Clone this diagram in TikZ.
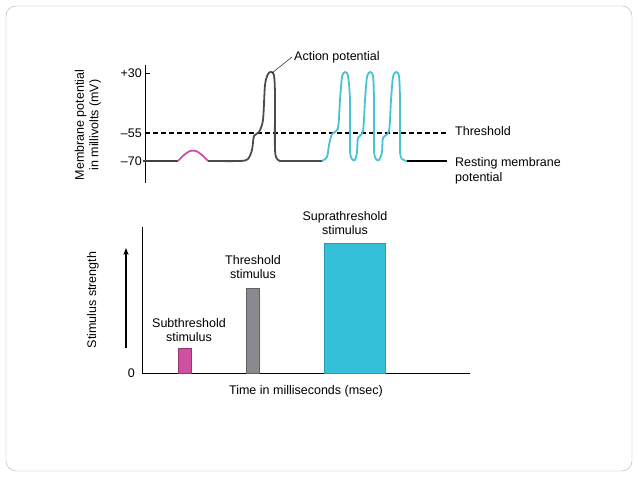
\documentclass[tikz,border=0pt]{standalone}
\usepackage{fontspec}
\setmainfont{Liberation Sans}
\usetikzlibrary{arrows.meta}
\definecolor{pk}{HTML}{D050A0}
\definecolor{cy}{HTML}{35C0DA}
\definecolor{cyl}{HTML}{45C3D3}
\definecolor{gb}{HTML}{8A8A8E}
\begin{document}
\begin{tikzpicture}[x=1pt,y=-1pt,font=\fontsize{12.5}{14.5}\selectfont,
 lbl/.style={inner sep=0pt,align=center},
 wave/.style={line width=1.8pt,smooth,tension=0.45,line join=round}]
\useasboundingbox (0,0) rectangle (638,478);
\draw[gray!60,rounded corners=10pt] (6,6) rectangle (632,471);
% top axis
\draw (145,65) -- (145,183);
\foreach \y/\t in {73/+30,133/--55,161/--70}{
 \draw (145,\y) -- (150,\y);
 \node[lbl,anchor=east] at (142,\y) {\t};}
\node[lbl,rotate=90] at (88,125) {Membrane potential\\in millivolts (mV)};
\draw[line width=1.8pt,dash pattern=on 5pt off 3pt] (145,133) -- (448,133);
\node[lbl,anchor=west] at (455,131) {Threshold};
\node[lbl,anchor=west,align=left] at (455,171) {Resting membrane\\potential};
% waveform
\draw[wave,black!75] plot coordinates {(143,161)(178,161)};
\draw[wave,pk] plot coordinates {(178,161)(184,155)(190,151)(196,151)(202,155)(208,161)};
\draw[wave,black!70] plot coordinates {(208,161)(240,161)(248,159)(252,150)(254,136)(259,132)(263,120)(265,85)(268,74)(271,72)(274,75)(275,95)(275,150)(278,160)(285,161)(322,161)};
\draw[wave,cyl] plot coordinates {(322,161)(327,157)(329,145)(332,134)(338,128)(340,100)(342,77)(345,72)(348,76)(350,100)(350,150)(352,159)(355,160)(357,152)(358,138)(363,131)(365,100)(367,77)(370,72)(373,76)(374,100)(374,150)(376,159)(379,160)(382,152)(383,138)(389,131)(391,100)(393,77)(396,72)(399,76)(400,100)(400,150)(402,159)(407,161)};
\draw[wave,black] plot coordinates {(407,161)(447,161)};
\draw (272,73) -- (292,57);
\node[lbl,anchor=west] at (294,57) {Action potential};
% bottom chart
\draw (142,227) -- (142,373) -- (470,373);
\node[lbl,anchor=east] at (135,373) {0};
\draw[line width=1.3pt,-{Stealth[length=7pt]}] (126,348) -- (126,248);
\node[lbl,rotate=90] at (93,300) {Stimulus strength};
\draw[fill=pk,draw=pk!70!black] (178,348) rectangle (191,373);
\draw[fill=gb,draw=gb!70!black] (246,288) rectangle (259,373);
\draw[fill=cy,draw=cy!80!black] (324,243) rectangle (385,373);
\node[lbl] at (189,330) {Subthreshold\\stimulus};
\node[lbl] at (253,267) {Threshold\\stimulus};
\node[lbl] at (345,223) {Suprathreshold\\stimulus};
\node[lbl] at (306,391) {Time in milliseconds (msec)};
\end{tikzpicture}
\end{document}
